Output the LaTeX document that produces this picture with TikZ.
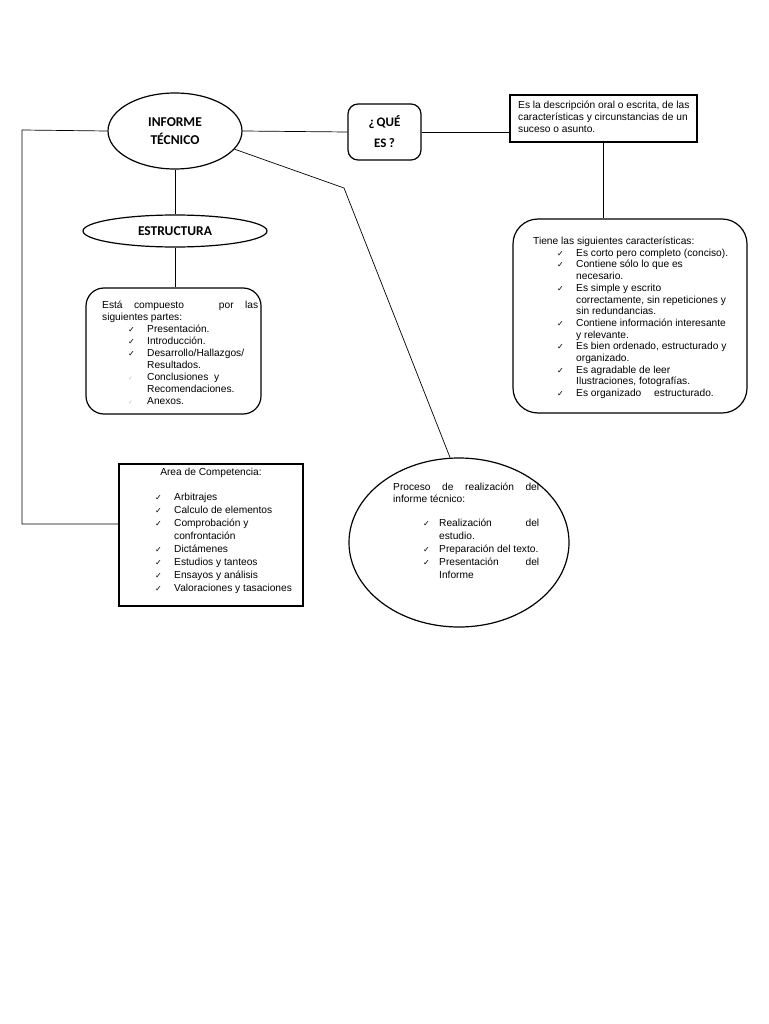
\documentclass[tikz,border=0pt]{standalone}
\usepackage{fontspec}
\setmainfont{Liberation Sans}
\newfontfamily\ttl{Carlito}
\newfontfamily\djv{DejaVu Sans}
\usetikzlibrary{shapes.geometric}
\newcommand\ckmark{{\djv\fontsize{8}{8}\selectfont ✓}}
\newcommand\ck{\makebox[19pt][l]{\ckmark}}
\newcommand\cklt{\makebox[19pt][l]{{\color{gray!60}\djv\fontsize{5.5}{5.5}\selectfont ✓}}}
\tikzset{
  shp/.style={draw, line width=1.2pt, inner sep=0pt},
  oval/.style={shp, ellipse},
  rbox/.style={shp, rectangle, rounded corners=#1},
  sbox/.style={shp, rectangle, line width=1.5pt},
  conn/.style={draw, line width=0.7pt},
  ttext/.style={font=\ttl\bfseries\fontsize{13.5}{18}\selectfont, align=center},
  btext/.style={anchor=base west, inner sep=0pt, font=\fontsize{10.2}{12}\selectfont},
}
\begin{document}
\begin{tikzpicture}[x=1pt,y=-1pt]
\useasboundingbox[fill=white] (0,0) rectangle (768,1024);

% shapes
\node[oval, minimum width=134, minimum height=76, ttext] (inf) at (175,131) {INFORME\\TÉCNICO};
\node[oval, minimum width=184, minimum height=32, ttext] (est) at (175,231) {ESTRUCTURA};
\node[rbox=10pt, minimum width=73, minimum height=56, ttext, font=\ttl\bfseries\fontsize{13}{21}\selectfont] (que) at (384.5,132) {¿\,QUÉ\\ES\,?};
\node[sbox, minimum width=187, minimum height=47] (desc) at (603.5,118.5) {};
\node[rbox=25pt, minimum width=234, minimum height=194] (car) at (630,316) {};
\node[rbox=18pt, minimum width=175, minimum height=126] (parts) at (173.5,351) {};
\node[sbox, minimum width=184, minimum height=142] (area) at (211,535) {};
\node[oval, minimum width=220, minimum height=169] (pro) at (459,542.5) {};

% connectors
\coordinate (lc) at (22,130);
\coordinate (bend) at (344,188);
\draw[conn] (inf.west) -- (lc) |- ([yshift=11pt]area.west);
\draw[conn] (inf.east) -- (que.west);
\draw[conn] (que.east) -- (que.east -| desc.west);
\draw[conn] (desc.south) -- (desc.south |- car.north);
\draw[conn] (inf.south) -- (est.north);
\draw[conn] (est.south) -- (est.south |- parts.north);
\draw[conn] (inf.-17) -- (bend) -- (pro.96);

% texts
\node[btext] (descT) at (518,108.5) {\begin{tabular}[t]{@{}l@{}}
Es la descripción oral o escrita, de las\\
características y circunstancias de un\\
suceso o asunto.
\end{tabular}};

\node[btext, font=\fontsize{10.2}{11.7}\selectfont] (carT) at (533,244.5) {\begin{tabular}[t]{@{\hspace{24pt}}l@{}l@{}}
\multicolumn{2}{@{}l@{}}{Tiene las siguientes características:}\\
\ck & Es corto pero completo (conciso).\\
\ck & Contiene sólo lo que es\\
 & necesario.\\
\ck & Es simple y escrito\\
 & correctamente, sin repeticiones y\\
 & sin redundancias.\\
\ck & Contiene información interesante\\
 & y relevante.\\
\ck & Es bien ordenado, estructurado y\\
 & organizado.\\
\ck & Es agradable de leer\\
 & Ilustraciones, fotografías.\\
\ck & Es organizado\hspace{10pt} estructurado.
\end{tabular}};

\node[btext] (partsT) at (102,308.5) {\begin{tabular}[t]{@{\hspace{26pt}}l@{}l@{}}
\multicolumn{2}{@{}l@{}}{\makebox[156pt][s]{Está compuesto \hspace{12pt} por las}}\\
\multicolumn{2}{@{}l@{}}{siguientes partes:}\\
\ck & Presentación.\\
\ck & Introducción.\\
\ck & Desarrollo/Hallazgos/\\
 & Resultados.\\
\cklt & Conclusiones\ \ y\\
 & Recomendaciones.\\
\cklt & Anexos.
\end{tabular}};

\node[btext, anchor=base, font=\fontsize{10.2}{13}\selectfont] (areaH) at (211,475.5) {Area de Competencia:};
\node[btext, font=\fontsize{10.2}{13}\selectfont] (areaT) at (155,500.5) {\begin{tabular}[t]{@{}l@{}l@{}}
\ck & Arbitrajes\\
\ck & Calculo de elementos\\
\ck & Comprobación y\\
 & confrontación\\
\ck & Dictámenes\\
\ck & Estudios y tanteos\\
\ck & Ensayos y análisis\\
\ck & Valoraciones y tasaciones
\end{tabular}};

\node[btext] (proH) at (393,490.5) {\begin{tabular}[t]{@{}l@{}}
\makebox[146pt][s]{Proceso de realización del}\\
informe técnico:
\end{tabular}};
\node[btext, font=\fontsize{10.2}{13}\selectfont] (proT) at (423,526.5) {\begin{tabular}[t]{@{}l@{}l@{}}
\makebox[16pt][l]{\ckmark} & \makebox[100pt][s]{Realización del}\\
 & estudio.\\
\makebox[16pt][l]{\ckmark} & Preparación del texto.\\
\makebox[16pt][l]{\ckmark} & \makebox[100pt][s]{Presentación del}\\
 & Informe
\end{tabular}};
\end{tikzpicture}
\end{document}
